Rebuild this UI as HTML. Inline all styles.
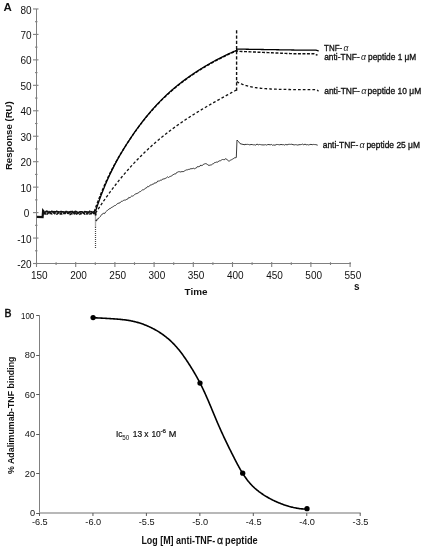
<!DOCTYPE html>
<html><head><meta charset="utf-8"><style>
html,body{margin:0;padding:0;background:#fff;}
svg{display:block;}
text{font-family:"Liberation Sans", Arial, sans-serif;fill:#111;}
</style></head><body>
<svg width="423" height="550" viewBox="0 0 423 550">
<rect width="423" height="550" fill="#fff"/>

<text x="3.6" y="10.8" font-size="11.5" font-weight="bold">A</text>
<g stroke="#808080" stroke-width="1" fill="none" shape-rendering="crispEdges">
<line x1="36.5" y1="8.96" x2="36.5" y2="263.5"/>
<line x1="36.5" y1="263.5" x2="350.60" y2="263.5"/>
</g>
<g stroke="#808080" stroke-width="1.1" fill="none">
<line x1="33" y1="263.51" x2="38.5" y2="263.51"/>
<line x1="33" y1="238.06" x2="38.5" y2="238.06"/>
<line x1="33" y1="212.60" x2="38.5" y2="212.60"/>
<line x1="33" y1="187.14" x2="38.5" y2="187.14"/>
<line x1="33" y1="161.69" x2="38.5" y2="161.69"/>
<line x1="33" y1="136.23" x2="38.5" y2="136.23"/>
<line x1="33" y1="110.78" x2="38.5" y2="110.78"/>
<line x1="33" y1="85.32" x2="38.5" y2="85.32"/>
<line x1="33" y1="59.87" x2="38.5" y2="59.87"/>
<line x1="33" y1="34.41" x2="38.5" y2="34.41"/>
<line x1="33" y1="8.96" x2="38.5" y2="8.96"/>
<line x1="35" y1="250.78" x2="37.5" y2="250.78"/>
<line x1="35" y1="225.33" x2="37.5" y2="225.33"/>
<line x1="35" y1="199.87" x2="37.5" y2="199.87"/>
<line x1="35" y1="174.42" x2="37.5" y2="174.42"/>
<line x1="35" y1="148.96" x2="37.5" y2="148.96"/>
<line x1="35" y1="123.51" x2="37.5" y2="123.51"/>
<line x1="35" y1="98.05" x2="37.5" y2="98.05"/>
<line x1="35" y1="72.60" x2="37.5" y2="72.60"/>
<line x1="35" y1="47.14" x2="37.5" y2="47.14"/>
<line x1="35" y1="21.69" x2="37.5" y2="21.69"/>
<line x1="36.50" y1="262" x2="36.50" y2="267"/>
<line x1="75.70" y1="262" x2="75.70" y2="267"/>
<line x1="114.90" y1="262" x2="114.90" y2="267"/>
<line x1="154.10" y1="262" x2="154.10" y2="267"/>
<line x1="193.30" y1="262" x2="193.30" y2="267"/>
<line x1="232.50" y1="262" x2="232.50" y2="267"/>
<line x1="271.70" y1="262" x2="271.70" y2="267"/>
<line x1="310.90" y1="262" x2="310.90" y2="267"/>
<line x1="350.10" y1="262" x2="350.10" y2="267"/>
<line x1="56.10" y1="262.2" x2="56.10" y2="265"/>
<line x1="95.30" y1="262.2" x2="95.30" y2="265"/>
<line x1="134.50" y1="262.2" x2="134.50" y2="265"/>
<line x1="173.70" y1="262.2" x2="173.70" y2="265"/>
<line x1="212.90" y1="262.2" x2="212.90" y2="265"/>
<line x1="252.10" y1="262.2" x2="252.10" y2="265"/>
<line x1="291.30" y1="262.2" x2="291.30" y2="265"/>
<line x1="330.50" y1="262.2" x2="330.50" y2="265"/>
</g>
<g font-size="10" text-anchor="end">
<text x="31.6" y="268.11">-20</text>
<text x="31.6" y="242.66">-10</text>
<text x="29.4" y="217.20">0</text>
<text x="31.6" y="191.74">10</text>
<text x="31.6" y="166.29">20</text>
<text x="31.6" y="140.83">30</text>
<text x="31.6" y="115.38">40</text>
<text x="31.6" y="89.92">50</text>
<text x="31.6" y="64.47">60</text>
<text x="31.6" y="39.01">70</text>
<text x="31.6" y="13.56">80</text>
</g>
<g font-size="10" text-anchor="middle">
<text x="39.30" y="278.8">150</text>
<text x="78.50" y="278.8">200</text>
<text x="117.70" y="278.8">250</text>
<text x="156.90" y="278.8">300</text>
<text x="196.10" y="278.8">350</text>
<text x="235.30" y="278.8">400</text>
<text x="274.50" y="278.8">450</text>
<text x="313.70" y="278.8">500</text>
<text x="352.90" y="278.8">550</text>
</g>
<text x="184.6" y="295.2" font-size="9.3" font-weight="bold" textLength="22.9" lengthAdjust="spacingAndGlyphs">Time</text>
<text x="356.8" y="289.8" font-size="10" font-weight="bold" text-anchor="middle">s</text>
<text transform="translate(12.1,135.7) rotate(-90)" font-size="9.6" font-weight="bold" text-anchor="middle">Response (RU)</text>
<polyline points="95.5,220.6 96.50,220.98 97.40,218.89 98.30,218.87 99.20,217.56 100.10,216.60 101.00,215.71 101.90,214.25 102.80,213.97 103.70,213.07 104.60,213.65 105.50,212.04 106.40,211.20 107.30,210.55 108.20,209.76 109.10,208.97 110.00,208.50 110.90,208.11 111.80,207.29 112.70,207.07 113.60,206.14 114.50,205.64 115.40,205.52 116.30,204.67 117.20,203.82 118.10,203.38 119.00,203.06 119.90,202.95 120.80,201.75 121.70,201.27 122.60,201.23 123.50,200.30 124.40,200.11 125.30,200.10 126.20,199.64 127.10,199.11 128.00,198.85 128.90,197.29 129.80,197.92 130.70,196.80 131.60,196.07 132.50,196.12 133.40,195.72 134.30,194.84 135.20,194.10 136.10,193.88 137.00,193.31 137.90,193.20 138.80,192.45 139.70,191.76 140.60,191.52 141.50,190.62 142.40,189.90 143.30,189.85 144.20,189.35 145.10,188.59 146.00,187.89 146.90,187.64 147.80,186.26 148.70,186.66 149.60,186.04 150.50,184.84 151.40,184.88 152.30,184.26 153.20,184.45 154.10,183.14 155.00,182.94 155.90,182.89 156.80,182.48 157.70,180.99 158.60,181.05 159.50,180.89 160.40,180.21 161.30,180.47 162.20,179.23 163.10,179.30 164.00,178.51 164.90,178.88 165.80,178.08 166.70,177.62 167.60,176.85 168.50,177.50 169.40,176.84 170.30,176.43 171.20,176.14 172.10,175.49 173.00,174.78 173.90,174.32 174.80,173.86 175.70,173.97 176.60,172.54 177.50,172.22 178.40,171.75 179.30,171.65 180.20,171.99 181.10,171.77 182.00,171.56 182.90,171.63 183.80,171.44 184.70,170.81 185.60,170.30 186.50,169.88 187.40,169.83 188.30,169.43 189.20,169.51 190.10,168.80 191.00,168.86 191.90,168.58 192.80,168.57 193.70,168.28 194.60,168.78 195.50,168.25 196.40,167.99 197.30,166.63 198.20,166.82 199.10,166.36 200.00,166.26 200.90,164.99 201.80,165.64 202.70,165.24 203.60,164.18 204.50,163.93 205.40,163.64 206.30,163.76 207.20,164.26 208.10,165.27 209.00,165.07 209.90,165.42 210.80,164.85 211.70,164.78 212.60,163.97 213.50,163.75 214.40,162.65 215.30,162.55 216.20,162.00 217.10,162.34 218.00,161.74 218.90,161.11 219.80,160.72 220.70,160.66 221.60,159.95 222.50,159.51 223.40,159.57 224.30,159.80 225.20,158.78 226.10,158.97 227.00,159.60 227.90,160.34 228.80,161.11 229.70,160.88 230.60,160.12 231.50,159.73 232.40,159.22 233.30,158.81 234.20,157.90 235.10,157.81 236.00,157.58 236.3,157.5 237.0,140.0 238.5,141.5 240,143.6 242,144.2 245,144.8" fill="none" stroke="#222" stroke-width="0.9"/>
<polyline points="245,144.8 245.00,144.37 246.20,144.46 247.40,144.35 248.60,144.50 249.80,144.86 251.00,144.48 252.20,144.55 253.40,144.84 254.60,144.79 255.80,145.11 257.00,143.97 258.20,144.86 259.40,144.46 260.60,144.64 261.80,144.85 263.00,144.92 264.20,144.91 265.40,144.65 266.60,145.08 267.80,144.52 269.00,144.56 270.20,144.84 271.40,144.43 272.60,145.25 273.80,144.91 275.00,145.25 276.20,144.59 277.40,144.49 278.60,144.65 279.80,144.82 281.00,144.42 282.20,144.71 283.40,144.59 284.60,145.08 285.80,144.40 287.00,144.91 288.20,144.41 289.40,144.31 290.60,144.39 291.80,144.24 293.00,144.64 294.20,144.91 295.40,144.65 296.60,144.79 297.80,145.09 299.00,144.68 300.20,144.66 301.40,144.52 302.60,144.12 303.80,144.83 305.00,144.07 306.20,144.80 307.40,144.60 308.60,144.94 309.80,144.58 311.00,144.35 312.20,144.71 313.40,144.43 314.60,144.55 315.80,144.61 317.70,145.20" fill="none" stroke="#222" stroke-width="0.9"/>
<line x1="95.5" y1="214" x2="95.5" y2="227" stroke="#aaa" stroke-width="1.3"/>
<line x1="95.5" y1="227" x2="95.5" y2="248.6" stroke="#444" stroke-width="1.2" stroke-dasharray="1.1 0.9"/>
<polyline points="95.5,220.5 97,220.2" fill="none" stroke="#222" stroke-width="1.2"/>
<polyline points="95.50,213.23 96.00,212.45 96.50,211.68 97.00,210.91 97.50,210.14 98.00,209.38 98.50,208.62 99.00,207.86 99.50,207.11 100.00,206.36 100.50,205.62 101.00,204.88 101.50,204.14 102.00,203.41 102.50,202.67 103.00,201.95 103.50,201.22 104.00,200.50 104.50,199.79 105.00,199.07 105.50,198.36 106.00,197.66 106.50,196.95 107.00,196.26 107.50,195.56 108.00,194.87 108.50,194.18 109.00,193.49 109.50,192.81 110.00,192.13 110.50,191.45 111.00,190.78 111.50,190.11 112.00,189.44 112.50,188.78 113.00,188.12 113.50,187.46 114.00,186.81 114.50,186.16 115.00,185.51 115.50,184.87 116.00,184.23 116.50,183.59 117.00,182.96 117.50,182.33 118.00,181.70 118.50,181.07 119.00,180.45 119.50,179.83 120.00,179.22 120.50,178.61 121.00,178.00 121.50,177.39 122.00,176.79 122.50,176.19 123.00,175.59 123.50,174.99 124.00,174.40 124.50,173.81 125.00,173.23 125.50,172.64 126.00,172.06 126.50,171.49 127.00,170.91 127.50,170.34 128.00,169.77 128.50,169.21 129.00,168.64 129.50,168.08 130.00,167.52 130.50,166.97 131.00,166.42 131.50,165.87 132.00,165.32 132.50,164.78 133.00,164.24 133.50,163.70 134.00,163.16 134.50,162.63 135.00,162.10 135.50,161.57 136.00,161.05 136.50,160.52 137.00,160.00 137.50,159.49 138.00,158.97 138.50,158.46 139.00,157.95 139.50,157.44 140.00,156.94 140.50,156.44 141.00,155.94 141.50,155.44 142.00,154.94 142.50,154.45 143.00,153.96 143.50,153.47 144.00,152.99 144.50,152.51 145.00,152.03 145.50,151.55 146.00,151.07 146.50,150.60 147.00,150.13 147.50,149.66 148.00,149.19 148.50,148.73 149.00,148.27 149.50,147.81 150.00,147.35 150.50,146.90 151.00,146.44 151.50,145.99 152.00,145.54 152.50,145.10 153.00,144.65 153.50,144.21 154.00,143.77 154.50,143.33 155.00,142.90 155.50,142.46 156.00,142.03 156.50,141.60 157.00,141.17 157.50,140.75 158.00,140.33 158.50,139.90 159.00,139.48 159.50,139.07 160.00,138.65 160.50,138.24 161.00,137.83 161.50,137.42 162.00,137.01 162.50,136.60 163.00,136.20 163.50,135.80 164.00,135.40 164.50,135.00 165.00,134.60 165.50,134.21 166.00,133.81 166.50,133.42 167.00,133.03 167.50,132.64 168.00,132.26 168.50,131.87 169.00,131.49 169.50,131.11 170.00,130.73 170.50,130.35 171.00,129.98 171.50,129.60 172.00,129.23 172.50,128.86 173.00,128.49 173.50,128.12 174.00,127.76 174.50,127.39 175.00,127.03 175.50,126.67 176.00,126.31 176.50,125.95 177.00,125.59 177.50,125.24 178.00,124.88 178.50,124.53 179.00,124.18 179.50,123.83 180.00,123.48 180.50,123.14 181.00,122.79 181.50,122.45 182.00,122.10 182.50,121.76 183.00,121.42 183.50,121.08 184.00,120.75 184.50,120.41 185.00,120.08 185.50,119.74 186.00,119.41 186.50,119.08 187.00,118.75 187.50,118.42 188.00,118.09 188.50,117.77 189.00,117.44 189.50,117.12 190.00,116.80 190.50,116.48 191.00,116.15 191.50,115.84 192.00,115.52 192.50,115.20 193.00,114.88 193.50,114.57 194.00,114.25 194.50,113.94 195.00,113.63 195.50,113.32 196.00,113.01 196.50,112.70 197.00,112.39 197.50,112.08 198.00,111.78 198.50,111.47 199.00,111.17 199.50,110.86 200.00,110.56 200.50,110.26 201.00,109.96 201.50,109.66 202.00,109.36 202.50,109.06 203.00,108.76 203.50,108.47 204.00,108.17 204.50,107.88 205.00,107.58 205.50,107.29 206.00,106.99 206.50,106.70 207.00,106.41 207.50,106.12 208.00,105.83 208.50,105.54 209.00,105.25 209.50,104.96 210.00,104.67 210.50,104.38 211.00,104.10 211.50,103.81 212.00,103.52 212.50,103.24 213.00,102.95 213.50,102.67 214.00,102.39 214.50,102.10 215.00,101.82 215.50,101.54 216.00,101.26 216.50,100.97 217.00,100.69 217.50,100.41 218.00,100.13 218.50,99.85 219.00,99.57 219.50,99.29 220.00,99.01 220.50,98.74 221.00,98.46 221.50,98.18 222.00,97.90 222.50,97.62 223.00,97.35 223.50,97.07 224.00,96.79 224.50,96.52 225.00,96.24 225.50,95.96 226.00,95.69 226.50,95.41 227.00,95.14 227.50,94.86 228.00,94.58 228.50,94.31 229.00,94.03 229.50,93.76 230.00,93.48 230.50,93.21 231.00,92.93 231.50,92.66 232.00,92.38 232.50,92.11 233.00,91.83 233.50,91.56 234.00,91.28 234.50,91.01 235.00,90.73 235.50,90.46 236.00,90.18 236.60,90.70" fill="none" stroke="#111" stroke-width="1.3" stroke-dasharray="2.7 2.1"/>
<line x1="236.6" y1="90.7" x2="236.6" y2="29.6" stroke="#111" stroke-width="1.4" stroke-dasharray="3.2 2"/>
<polyline points="236.80,81.50 238.00,82.34 238.50,82.60 239.00,82.85 239.50,83.09 240.00,83.32 240.50,83.55 241.00,83.76 241.50,83.97 242.00,84.17 242.50,84.37 243.00,84.55 243.50,84.73 244.00,84.91 244.50,85.08 245.00,85.24 245.50,85.40 246.00,85.55 246.50,85.69 247.00,85.83 247.50,85.97 248.00,86.10 248.50,86.23 249.00,86.35 249.50,86.47 250.00,86.58 250.50,86.69 251.00,86.79 251.50,86.90 252.00,86.99 252.50,87.09 253.00,87.18 253.50,87.27 254.00,87.35 254.50,87.44 255.00,87.52 255.50,87.59 256.00,87.67 256.50,87.74 257.00,87.81 257.50,87.87 258.00,87.94 258.50,88.00 259.00,88.06 259.50,88.12 260.00,88.17 260.50,88.23 261.00,88.28 261.50,88.33 262.00,88.38 262.50,88.42 263.00,88.47 263.50,88.51 264.00,88.55 264.50,88.59 265.00,88.63 265.50,88.67 266.00,88.70 266.50,88.74 267.00,88.77 267.50,88.81 268.00,88.84 268.50,88.87 269.00,88.90 269.50,88.92 270.00,88.95 270.50,88.98 271.00,89.00 271.50,89.03 272.00,89.05 272.50,89.07 273.00,89.10 273.50,89.12 274.00,89.14 274.50,89.16 275.00,89.18 275.50,89.19 276.00,89.21 276.50,89.23 277.00,89.25 277.50,89.26 278.00,89.28 278.50,89.29 279.00,89.31 279.50,89.32 280.00,89.33 280.50,89.35 281.00,89.36 281.50,89.37 282.00,89.38 282.50,89.39 283.00,89.40 283.50,89.41 284.00,89.42 284.50,89.43 285.00,89.44 285.50,89.45 286.00,89.46 286.50,89.47 287.00,89.48 287.50,89.49 288.00,89.49 288.50,89.50 289.00,89.51 289.50,89.51 290.00,89.52 290.50,89.53 291.00,89.53 291.50,89.54 292.00,89.54 292.50,89.55 293.00,89.56 293.50,89.56 294.00,89.57 294.50,89.57 295.00,89.57 295.50,89.58 296.00,89.58 296.50,89.59 297.00,89.59 297.50,89.60 298.00,89.60 298.50,89.60 299.00,89.61 299.50,89.61 300.00,89.61 300.50,89.62 301.00,89.62 301.50,89.62 302.00,89.62 302.50,89.63 303.00,89.63 303.50,89.63 304.00,89.63 304.50,89.64 305.00,89.64 305.50,89.64 306.00,89.64 306.50,89.64 307.00,89.65 307.50,89.65 308.00,89.65 308.50,89.65 309.00,89.65 309.50,89.66 310.00,89.66 310.50,89.66 311.00,89.66 311.50,89.66 312.00,89.66 312.50,89.66 313.00,89.67 313.50,89.67 314.00,89.67 314.50,89.67 315.00,89.67 315.50,89.67 316.00,89.67 316.50,89.67 317.50,90.30 318.50,91.20" fill="none" stroke="#111" stroke-width="1.3" stroke-dasharray="2.7 2.1"/>
<polyline points="94.20,211.78 94.73,210.25 95.25,208.75 95.78,207.27 96.30,205.81 96.82,204.36 97.35,202.94 97.87,201.53 98.39,200.14 98.91,198.77 99.44,197.42 99.96,196.08 100.48,194.77 101.00,193.46 101.52,192.18 102.04,190.91 102.56,189.66 103.07,188.42 103.59,187.20 104.11,186.00 104.63,184.81 105.15,183.63 105.66,182.47 106.18,181.33 106.70,180.19 107.21,179.08 107.73,177.97 108.24,176.88 108.76,175.80 109.27,174.73 109.79,173.68 110.30,172.64 110.81,171.61 111.33,170.59 111.84,169.59 112.35,168.59 112.87,167.61 113.38,166.63 113.89,165.67 114.40,164.72 114.92,163.77 115.43,162.84 115.94,161.91 116.45,161.00 116.96,160.09 117.47,159.19 117.98,158.30 118.49,157.42 119.00,156.55 119.51,155.68 120.02,154.82 120.53,153.97 121.04,153.13 121.55,152.29 122.06,151.45 122.57,150.63 123.08,149.80 123.58,148.99 124.09,148.18 124.60,147.37 125.11,146.57 125.62,145.77 126.12,144.98 126.63,144.19 127.14,143.41 127.65,142.63 128.15,141.86 128.66,141.09 129.17,140.33 129.67,139.57 130.18,138.82 130.69,138.07 131.19,137.32 131.70,136.58 132.20,135.85 132.71,135.12 133.22,134.39 133.72,133.67 134.23,132.95 134.73,132.24 135.24,131.53 135.74,130.83 136.25,130.13 136.75,129.43 137.26,128.74 137.76,128.05 138.27,127.37 138.77,126.69 139.28,126.02 139.78,125.35 140.29,124.68 140.79,124.02 141.29,123.37 141.80,122.71 142.30,122.07 142.81,121.42 143.31,120.78 143.81,120.15 144.32,119.51 144.82,118.89 145.32,118.26 145.83,117.64 146.33,117.03 146.83,116.42 147.34,115.81 147.84,115.21 148.34,114.61 148.85,114.01 149.35,113.42 149.85,112.83 150.36,112.25 150.86,111.67 151.36,111.09 151.86,110.52 152.37,109.95 152.87,109.39 153.37,108.83 153.87,108.27 154.38,107.72 154.88,107.17 155.38,106.62 155.88,106.08 156.39,105.54 156.89,105.01 157.39,104.47 157.89,103.95 158.40,103.42 158.90,102.90 159.40,102.39 159.90,101.87 160.40,101.36 160.91,100.86 161.41,100.35 161.91,99.85 162.41,99.36 162.91,98.86 163.41,98.37 163.92,97.89 164.42,97.41 164.92,96.93 165.42,96.45 165.92,95.98 166.42,95.51 166.93,95.04 167.43,94.58 167.93,94.12 168.43,93.66 168.93,93.20 169.43,92.75 169.93,92.30 170.44,91.86 170.94,91.42 171.44,90.98 171.94,90.54 172.44,90.11 172.94,89.68 173.44,89.25 173.94,88.82 174.44,88.40 174.95,87.98 175.45,87.57 175.95,87.15 176.45,86.74 176.95,86.33 177.45,85.92 177.95,85.52 178.45,85.12 178.95,84.72 179.45,84.33 179.96,83.93 180.46,83.54 180.96,83.15 181.46,82.77 181.96,82.38 182.46,82.00 182.96,81.62 183.46,81.25 183.96,80.87 184.46,80.50 184.96,80.13 185.46,79.76 185.97,79.40 186.47,79.03 186.97,78.67 187.47,78.31 187.97,77.95 188.47,77.60 188.97,77.25 189.47,76.90 189.97,76.55 190.47,76.20 190.97,75.85 191.47,75.51 191.97,75.17 192.47,74.83 192.97,74.49 193.47,74.16 193.97,73.82 194.48,73.49 194.98,73.16 195.48,72.83 195.98,72.50 196.48,72.18 196.98,71.85 197.48,71.53 197.98,71.21 198.48,70.89 198.98,70.57 199.48,70.25 199.98,69.94 200.48,69.63 200.98,69.31 201.48,69.00 201.98,68.70 202.48,68.39 202.98,68.08 203.48,67.78 203.98,67.47 204.48,67.17 204.98,66.87 205.48,66.58 205.98,66.28 206.48,65.98 206.98,65.69 207.49,65.40 207.99,65.11 208.49,64.82 208.99,64.53 209.49,64.24 209.99,63.96 210.49,63.67 210.99,63.39 211.49,63.11 211.99,62.83 212.49,62.55 212.99,62.28 213.49,62.00 213.99,61.73 214.49,61.46 214.99,61.19 215.49,60.92 215.99,60.65 216.49,60.38 216.99,60.12 217.49,59.86 217.99,59.59 218.49,59.33 218.99,59.07 219.49,58.82 219.99,58.56 220.49,58.31 220.99,58.05 221.49,57.80 221.99,57.55 222.49,57.30 222.99,57.05 223.49,56.81 223.99,56.56 224.49,56.32 224.99,56.08 225.49,55.84 225.99,55.60 226.49,55.36 226.99,55.12 227.49,54.89 227.99,54.65 228.49,54.42 228.99,54.19 229.49,53.96 229.99,53.73 230.49,53.50 230.99,53.28 231.49,53.05 231.99,52.83 232.49,52.61 232.99,52.39 233.49,52.17 233.99,51.95 234.49,51.74 235.00,51.52 235.50,51.31 236.00,51.10 236.50,50.89 236.80,50.60 238.00,51.30 238.50,51.32 239.00,51.34 239.50,51.37 240.00,51.39 240.50,51.41 241.00,51.43 241.50,51.45 242.00,51.48 242.50,51.50 243.00,51.52 243.50,51.54 244.00,51.56 244.50,51.59 245.00,51.61 245.50,51.63 246.00,51.65 246.50,51.67 247.00,51.69 247.50,51.72 248.00,51.74 248.50,51.76 249.00,51.78 249.50,51.80 250.00,51.83 250.50,51.85 251.00,51.87 251.50,51.89 252.00,51.91 252.50,51.94 253.00,51.96 253.50,51.98 254.00,52.00 254.50,52.02 255.00,52.05 255.50,52.07 256.00,52.09 256.50,52.11 257.00,52.13 257.50,52.16 258.00,52.18 258.50,52.20 259.00,52.22 259.50,52.24 260.00,52.26 260.50,52.29 261.00,52.31 261.50,52.33 262.00,52.35 262.50,52.37 263.00,52.40 263.50,52.42 264.00,52.44 264.50,52.46 265.00,52.48 265.50,52.51 266.00,52.53 266.50,52.55 267.00,52.57 267.50,52.59 268.00,52.62 268.50,52.64 269.00,52.66 269.50,52.68 270.00,52.70 270.50,52.73 271.00,52.75 271.50,52.77 272.00,52.79 272.50,52.81 273.00,52.84 273.50,52.86 274.00,52.88 274.50,52.90 275.00,52.92 275.50,52.94 276.00,52.97 276.50,52.99 277.00,53.01 277.50,53.03 278.00,53.05 278.50,53.08 279.00,53.10 279.50,53.12 280.00,53.14 280.50,53.16 281.00,53.19 281.50,53.21 282.00,53.23 282.50,53.25 283.00,53.27 283.50,53.30 284.00,53.32 284.50,53.34 285.00,53.36 285.50,53.38 286.00,53.41 286.50,53.43 287.00,53.45 287.50,53.47 288.00,53.49 288.50,53.51 289.00,53.54 289.50,53.56 290.00,53.58 290.50,53.60 291.00,53.62 291.50,53.65 292.00,53.67 292.50,53.69 293.00,53.71 293.50,53.73 294.00,53.76 294.50,53.78 295.00,53.80 295.50,53.80 296.00,53.80 296.50,53.80 297.00,53.80 297.50,53.80 298.00,53.80 298.50,53.80 299.00,53.80 299.50,53.80 300.00,53.80 300.50,53.80 301.00,53.80 301.50,53.80 302.00,53.80 302.50,53.80 303.00,53.80 303.50,53.80 304.00,53.80 304.50,53.80 305.00,53.80 305.50,53.80 306.00,53.80 306.50,53.80 307.00,53.80 307.50,53.80 308.00,53.80 308.50,53.80 309.00,53.80 309.50,53.80 310.00,53.80 310.50,53.80 311.00,53.80 311.50,53.80 312.00,53.80 312.50,53.80 313.00,53.80 313.50,53.80 314.00,53.80 314.50,54.00 315.00,54.20 315.50,54.40 316.00,54.60 316.50,54.80 317.00,55.00 317.50,55.20" fill="none" stroke="#111" stroke-width="1.4" stroke-dasharray="3 1.5"/>
<polyline points="95.50,211.28 96.00,209.75 96.50,208.25 97.00,206.77 97.50,205.31 98.00,203.86 98.50,202.44 99.00,201.03 99.50,199.64 100.00,198.27 100.50,196.92 101.00,195.58 101.50,194.27 102.00,192.96 102.50,191.68 103.00,190.41 103.50,189.16 104.00,187.92 104.50,186.70 105.00,185.50 105.50,184.31 106.00,183.13 106.50,181.97 107.00,180.83 107.50,179.69 108.00,178.58 108.50,177.47 109.00,176.38 109.50,175.30 110.00,174.23 110.50,173.18 111.00,172.14 111.50,171.11 112.00,170.09 112.50,169.09 113.00,168.09 113.50,167.11 114.00,166.13 114.50,165.17 115.00,164.22 115.50,163.27 116.00,162.34 116.50,161.41 117.00,160.50 117.50,159.59 118.00,158.69 118.50,157.80 119.00,156.92 119.50,156.05 120.00,155.18 120.50,154.32 121.00,153.47 121.50,152.63 122.00,151.79 122.50,150.95 123.00,150.13 123.50,149.30 124.00,148.49 124.50,147.68 125.00,146.87 125.50,146.07 126.00,145.27 126.50,144.48 127.00,143.69 127.50,142.91 128.00,142.13 128.50,141.36 129.00,140.59 129.50,139.83 130.00,139.07 130.50,138.32 131.00,137.57 131.50,136.82 132.00,136.08 132.50,135.35 133.00,134.62 133.50,133.89 134.00,133.17 134.50,132.45 135.00,131.74 135.50,131.03 136.00,130.33 136.50,129.63 137.00,128.93 137.50,128.24 138.00,127.55 138.50,126.87 139.00,126.19 139.50,125.52 140.00,124.85 140.50,124.18 141.00,123.52 141.50,122.87 142.00,122.21 142.50,121.57 143.00,120.92 143.50,120.28 144.00,119.65 144.50,119.01 145.00,118.39 145.50,117.76 146.00,117.14 146.50,116.53 147.00,115.92 147.50,115.31 148.00,114.71 148.50,114.11 149.00,113.51 149.50,112.92 150.00,112.33 150.50,111.75 151.00,111.17 151.50,110.59 152.00,110.02 152.50,109.45 153.00,108.89 153.50,108.33 154.00,107.77 154.50,107.22 155.00,106.67 155.50,106.12 156.00,105.58 156.50,105.04 157.00,104.51 157.50,103.97 158.00,103.45 158.50,102.92 159.00,102.40 159.50,101.89 160.00,101.37 160.50,100.86 161.00,100.36 161.50,99.85 162.00,99.35 162.50,98.86 163.00,98.36 163.50,97.87 164.00,97.39 164.50,96.91 165.00,96.43 165.50,95.95 166.00,95.48 166.50,95.01 167.00,94.54 167.50,94.08 168.00,93.62 168.50,93.16 169.00,92.70 169.50,92.25 170.00,91.80 170.50,91.36 171.00,90.92 171.50,90.48 172.00,90.04 172.50,89.61 173.00,89.18 173.50,88.75 174.00,88.32 174.50,87.90 175.00,87.48 175.50,87.07 176.00,86.65 176.50,86.24 177.00,85.83 177.50,85.42 178.00,85.02 178.50,84.62 179.00,84.22 179.50,83.83 180.00,83.43 180.50,83.04 181.00,82.65 181.50,82.27 182.00,81.88 182.50,81.50 183.00,81.12 183.50,80.75 184.00,80.37 184.50,80.00 185.00,79.63 185.50,79.26 186.00,78.90 186.50,78.53 187.00,78.17 187.50,77.81 188.00,77.45 188.50,77.10 189.00,76.75 189.50,76.40 190.00,76.05 190.50,75.70 191.00,75.35 191.50,75.01 192.00,74.67 192.50,74.33 193.00,73.99 193.50,73.66 194.00,73.32 194.50,72.99 195.00,72.66 195.50,72.33 196.00,72.00 196.50,71.68 197.00,71.35 197.50,71.03 198.00,70.71 198.50,70.39 199.00,70.07 199.50,69.75 200.00,69.44 200.50,69.13 201.00,68.81 201.50,68.50 202.00,68.20 202.50,67.89 203.00,67.58 203.50,67.28 204.00,66.97 204.50,66.67 205.00,66.37 205.50,66.08 206.00,65.78 206.50,65.48 207.00,65.19 207.50,64.90 208.00,64.61 208.50,64.32 209.00,64.03 209.50,63.74 210.00,63.46 210.50,63.17 211.00,62.89 211.50,62.61 212.00,62.33 212.50,62.05 213.00,61.78 213.50,61.50 214.00,61.23 214.50,60.96 215.00,60.69 215.50,60.42 216.00,60.15 216.50,59.88 217.00,59.62 217.50,59.36 218.00,59.09 218.50,58.83 219.00,58.57 219.50,58.32 220.00,58.06 220.50,57.81 221.00,57.55 221.50,57.30 222.00,57.05 222.50,56.80 223.00,56.55 223.50,56.31 224.00,56.06 224.50,55.82 225.00,55.58 225.50,55.34 226.00,55.10 226.50,54.86 227.00,54.62 227.50,54.39 228.00,54.15 228.50,53.92 229.00,53.69 229.50,53.46 230.00,53.23 230.50,53.00 231.00,52.78 231.50,52.55 232.00,52.33 232.50,52.11 233.00,51.89 233.50,51.67 234.00,51.45 234.50,51.24 235.00,51.02 235.50,50.81 236.00,50.60 236.50,50.39 236.80,49.20 238.00,49.10 238.50,49.11 239.00,49.12 239.50,49.12 240.00,49.13 240.50,49.14 241.00,49.15 241.50,49.16 242.00,49.17 242.50,49.17 243.00,49.18 243.50,49.19 244.00,49.20 244.50,49.21 245.00,49.21 245.50,49.22 246.00,49.23 246.50,49.24 247.00,49.25 247.50,49.26 248.00,49.26 248.50,49.27 249.00,49.28 249.50,49.29 250.00,49.30 250.50,49.31 251.00,49.31 251.50,49.32 252.00,49.33 252.50,49.34 253.00,49.35 253.50,49.35 254.00,49.36 254.50,49.37 255.00,49.38 255.50,49.39 256.00,49.40 256.50,49.40 257.00,49.41 257.50,49.42 258.00,49.43 258.50,49.44 259.00,49.44 259.50,49.45 260.00,49.46 260.50,49.47 261.00,49.48 261.50,49.49 262.00,49.49 262.50,49.50 263.00,49.51 263.50,49.52 264.00,49.53 264.50,49.54 265.00,49.54 265.50,49.55 266.00,49.56 266.50,49.57 267.00,49.58 267.50,49.58 268.00,49.59 268.50,49.60 269.00,49.61 269.50,49.62 270.00,49.63 270.50,49.63 271.00,49.64 271.50,49.65 272.00,49.66 272.50,49.67 273.00,49.67 273.50,49.68 274.00,49.69 274.50,49.70 275.00,49.71 275.50,49.72 276.00,49.72 276.50,49.73 277.00,49.74 277.50,49.75 278.00,49.76 278.50,49.76 279.00,49.77 279.50,49.78 280.00,49.79 280.50,49.80 281.00,49.81 281.50,49.81 282.00,49.82 282.50,49.83 283.00,49.84 283.50,49.85 284.00,49.86 284.50,49.86 285.00,49.87 285.50,49.88 286.00,49.89 286.50,49.90 287.00,49.90 287.50,49.91 288.00,49.92 288.50,49.93 289.00,49.94 289.50,49.95 290.00,49.95 290.50,49.96 291.00,49.97 291.50,49.98 292.00,49.99 292.50,49.99 293.00,50.00 293.50,50.01 294.00,50.02 294.50,50.03 295.00,50.04 295.50,50.04 296.00,50.05 296.50,50.06 297.00,50.07 297.50,50.08 298.00,50.09 298.50,50.09 299.00,50.10 299.50,50.11 300.00,50.12 300.50,50.13 301.00,50.13 301.50,50.14 302.00,50.15 302.50,50.16 303.00,50.17 303.50,50.18 304.00,50.18 304.50,50.19 305.00,50.20 305.50,50.20 306.00,50.20 306.50,50.20 307.00,50.20 307.50,50.20 308.00,50.20 308.50,50.20 309.00,50.20 309.50,50.20 310.00,50.20 310.50,50.20 311.00,50.20 311.50,50.20 312.00,50.20 312.50,50.20 313.00,50.20 313.50,50.20 314.00,50.20 314.50,50.20 315.00,50.20 315.50,50.20 316.00,50.20 317.50,50.60 318.80,51.00" fill="none" stroke="#000" stroke-width="1.3"/>
<polyline points="36.8,216.9 42.6,217.2 43.1,210.8 43.8,211.6" fill="none" stroke="#111" stroke-width="2.2"/>
<polyline points="43.50,211.87 44.20,212.09 44.90,211.98 45.60,211.97 46.30,211.22 47.00,211.56 47.70,211.38 48.40,212.21 49.10,212.47 49.80,211.70 50.50,212.03 51.20,211.70 51.90,211.34 52.60,211.83 53.30,211.84 54.00,211.72 54.70,212.11 55.40,211.93 56.10,211.74 56.80,211.29 57.50,211.87 58.20,212.16 58.90,211.89 59.60,212.00 60.30,211.92 61.00,211.55 61.70,212.04 62.40,211.79 63.10,211.75 63.80,211.99 64.50,212.13 65.20,212.49 65.90,211.63 66.60,211.64 67.30,211.89 68.00,212.02 68.70,212.76 69.40,212.00 70.10,212.08 70.80,211.70 71.50,211.77 72.20,211.49 72.90,212.49 73.60,212.17 74.30,212.12 75.00,211.63 75.70,211.46 76.40,211.76 77.10,212.06 77.80,212.26 78.50,212.50 79.20,212.27 79.90,211.85 80.60,211.84 81.30,211.78 82.00,211.81 82.70,212.27 83.40,212.52 84.10,212.13 84.80,211.73 85.50,211.80 86.20,212.12 86.90,211.81 87.60,212.09 88.30,212.16 89.00,212.36 89.70,211.33 90.40,211.70 91.10,211.95 91.80,211.68 92.50,212.50 93.20,212.33 93.90,211.89 94.60,211.82 95.30,211.22" fill="none" stroke="#111" stroke-width="1.7"/>
<polyline points="43.50,213.21 44.20,213.66 44.90,213.06 45.60,213.99 46.30,213.73 47.00,214.03 47.70,213.61 48.40,212.77 49.10,213.06 49.80,213.35 50.50,213.26 51.20,213.43 51.90,213.86 52.60,213.41 53.30,212.89 54.00,213.03 54.70,213.53 55.40,213.46 56.10,214.01 56.80,214.14 57.50,213.55 58.20,213.01 58.90,212.88 59.60,213.33 60.30,213.82 61.00,213.85 61.70,213.88 62.40,213.41 63.10,213.35 63.80,213.09 64.50,213.28 65.20,213.30 65.90,213.40 66.60,213.61 67.30,213.22 68.00,213.02 68.70,213.38 69.40,213.36 70.10,214.38 70.80,214.03 71.50,213.56 72.20,213.66 72.90,213.33 73.60,213.05 74.30,213.69 75.00,213.48 75.70,213.04 76.40,213.89 77.10,213.29 77.80,213.60 78.50,213.07 79.20,213.14 79.90,214.08 80.60,213.53 81.30,213.73 82.00,213.78 82.70,213.25 83.40,213.22 84.10,213.49 84.80,213.92 85.50,213.60 86.20,213.81 86.90,213.54 87.60,213.80 88.30,213.17 89.00,213.26 89.70,213.91 90.40,213.69 91.10,213.70 91.80,213.40 92.50,213.50 93.20,213.11 93.90,213.49 94.60,213.11 95.30,213.56" fill="none" stroke="#111" stroke-width="1.7" stroke-dasharray="3 0.8"/>
<polyline points="94.5,212.6 95.5,213.5 95.8,215.5" fill="none" stroke="#111" stroke-width="1.8"/>
<g font-size="8.6" stroke="#111" stroke-width="0.32">
<text x="324.1" y="51.0" textLength="18.1" lengthAdjust="spacingAndGlyphs" >TNF-</text>
<text x="343.6" y="51.0" textLength="4.9" lengthAdjust="spacingAndGlyphs" font-family="Liberation Serif, serif" font-style="italic" font-size="9.2" stroke="none" fill="#222">α</text>
<text x="324.2" y="60.1" textLength="35.5" lengthAdjust="spacingAndGlyphs" >anti-TNF-</text>
<text x="361.0" y="60.1" textLength="5.0" lengthAdjust="spacingAndGlyphs" font-family="Liberation Serif, serif" font-style="italic" font-size="9.2" stroke="none" fill="#222">α</text>
<text x="368.1" y="60.1" textLength="48.2" lengthAdjust="spacingAndGlyphs" >peptide 1 μM</text>
<text x="324.2" y="93.6" textLength="35.7" lengthAdjust="spacingAndGlyphs" >anti-TNF-</text>
<text x="361.2" y="93.6" textLength="5.2" lengthAdjust="spacingAndGlyphs" font-family="Liberation Serif, serif" font-style="italic" font-size="9.2" stroke="none" fill="#222">α</text>
<text x="367.6" y="93.6" textLength="53.6" lengthAdjust="spacingAndGlyphs" >peptide 10 μM</text>
<text x="322.8" y="147.7" textLength="35.4" lengthAdjust="spacingAndGlyphs" >anti-TNF-</text>
<text x="359.6" y="147.7" textLength="5.1" lengthAdjust="spacingAndGlyphs" font-family="Liberation Serif, serif" font-style="italic" font-size="9.2" stroke="none" fill="#222">α</text>
<text x="366.4" y="147.7" textLength="53.6" lengthAdjust="spacingAndGlyphs" >peptide 25 μM</text>
</g>
<text x="4.5" y="316.9" font-size="11" stroke="#000" stroke-width="0.45" fill="#000" textLength="7.0" lengthAdjust="spacingAndGlyphs">B</text>
<g stroke="#808080" stroke-width="1" fill="none">
<line x1="39.5" y1="315.55" x2="39.5" y2="513"/>
</g>
<line x1="39" y1="513" x2="360.70" y2="513" stroke="#a0a0a0" stroke-width="1.35"/>
<g stroke="#5a5a5a" stroke-width="1" fill="none">
<line x1="36.2" y1="513.50" x2="39.5" y2="513.50"/>
<line x1="36.2" y1="473.50" x2="39.5" y2="473.50"/>
<line x1="36.2" y1="434.50" x2="39.5" y2="434.50"/>
<line x1="36.2" y1="394.50" x2="39.5" y2="394.50"/>
<line x1="36.2" y1="355.50" x2="39.5" y2="355.50"/>
<line x1="36.2" y1="315.50" x2="39.5" y2="315.50"/>
<line x1="39.50" y1="513" x2="39.50" y2="516"/>
<line x1="92.95" y1="513" x2="92.95" y2="516"/>
<line x1="146.40" y1="513" x2="146.40" y2="516"/>
<line x1="199.85" y1="513" x2="199.85" y2="516"/>
<line x1="253.30" y1="513" x2="253.30" y2="516"/>
<line x1="306.75" y1="513" x2="306.75" y2="516"/>
<line x1="360.20" y1="513" x2="360.20" y2="516"/>
</g>
<g font-size="9.2" text-anchor="end">
<text x="35.1" y="516.10">0</text>
<text x="35.1" y="476.61">20</text>
<text x="35.1" y="437.12">40</text>
<text x="35.1" y="397.63">60</text>
<text x="35.1" y="358.14">80</text>
<text x="34.2" y="318.65" textLength="13.2" lengthAdjust="spacingAndGlyphs">100</text>
</g>
<g font-size="9.2" text-anchor="middle">
<text x="39.80" y="525.3">-6.5</text>
<text x="93.25" y="525.3">-6.0</text>
<text x="146.70" y="525.3">-5.5</text>
<text x="200.15" y="525.3">-5.0</text>
<text x="253.60" y="525.3">-4.5</text>
<text x="307.05" y="525.3">-4.0</text>
<text x="360.50" y="525.3">-3.5</text>
</g>
<g font-size="10" font-weight="bold">
<text x="141.4" y="543.9" textLength="73.8" lengthAdjust="spacingAndGlyphs" >Log [M] anti-TNF-</text>
<text x="216.9" y="543.9" textLength="6.0" lengthAdjust="spacingAndGlyphs" font-family="Liberation Serif, serif" font-weight="normal" font-size="10.5" fill="#111" stroke="#111" stroke-width="0.3">α</text>
<text x="225.0" y="543.9" textLength="32.75" lengthAdjust="spacingAndGlyphs" >peptide</text>
</g>
<text transform="translate(14.4,474.0) rotate(-90)" font-size="9.9" font-weight="bold" textLength="117.5" lengthAdjust="spacingAndGlyphs">% Adalimumab-TNF binding</text>
<g font-size="8.4" stroke="#111" stroke-width="0.2">
<text x="115.9" y="436.6">Ic</text>
<text x="122.3" y="440.1" font-size="6.3" stroke="none" fill="#333">50</text>
<text x="132.8" y="436.6">13</text>
<text x="144.3" y="436.6">x</text>
<text x="151.4" y="436.6">10</text>
<text x="160.4" y="433.2" font-size="6.2">-6</text>
<text x="168.8" y="436.6" textLength="7.6" lengthAdjust="spacingAndGlyphs">M</text>
</g>
<polyline points="92.92,317.73 94.77,317.82 96.56,317.90 98.29,317.99 99.97,318.07 101.59,318.16 103.15,318.24 104.67,318.32 106.14,318.40 107.55,318.48 108.93,318.56 110.25,318.64 111.53,318.71 112.78,318.80 113.98,318.88 115.14,318.96 116.27,319.04 117.36,319.13 118.42,319.22 119.45,319.31 120.44,319.40 121.41,319.50 122.36,319.59 123.28,319.70 124.17,319.80 125.05,319.91 125.90,320.02 126.74,320.14 127.56,320.26 128.37,320.39 129.16,320.52 129.94,320.66 130.71,320.81 131.48,320.95 132.24,321.11 132.99,321.27 133.74,321.44 134.49,321.62 135.24,321.80 135.99,321.99 136.74,322.19 137.48,322.39 138.23,322.61 138.98,322.83 139.73,323.06 140.48,323.30 141.23,323.55 141.99,323.81 142.74,324.08 143.51,324.36 144.27,324.65 145.05,324.95 145.82,325.26 146.61,325.58 147.40,325.92 148.19,326.26 148.99,326.62 149.79,326.99 150.60,327.37 151.42,327.77 152.24,328.18 153.06,328.60 153.88,329.03 154.71,329.48 155.54,329.94 156.38,330.42 157.21,330.91 158.05,331.41 158.89,331.94 159.73,332.47 160.57,333.02 161.41,333.59 162.26,334.17 163.10,334.77 163.94,335.39 164.78,336.02 165.63,336.68 166.47,337.34 167.30,338.03 168.14,338.73 168.97,339.45 169.81,340.19 170.63,340.95 171.46,341.73 172.28,342.53 173.10,343.35 173.92,344.18 174.73,345.04 175.53,345.92 176.33,346.81 177.13,347.73 177.92,348.66 178.70,349.62 179.48,350.59 180.26,351.57 181.03,352.57 181.79,353.58 182.55,354.60 183.30,355.64 184.05,356.68 184.79,357.74 185.52,358.80 186.25,359.87 186.97,360.94 187.69,362.02 188.40,363.11 189.10,364.19 189.80,365.28 190.49,366.37 191.18,367.47 191.86,368.56 192.53,369.66 193.19,370.76 193.85,371.87 194.50,372.98 195.15,374.09 195.78,375.20 196.42,376.31 197.04,377.43 197.65,378.55 198.26,379.67 198.86,380.80 199.46,381.93 200.04,383.06 200.62,384.19 201.19,385.33 201.76,386.47 202.32,387.61 202.87,388.76 203.41,389.90 203.95,391.05 204.48,392.20 205.01,393.35 205.53,394.50 206.04,395.65 206.56,396.81 207.06,397.96 207.56,399.11 208.06,400.26 208.56,401.42 209.05,402.57 209.54,403.72 210.02,404.87 210.50,406.02 210.98,407.16 211.46,408.31 211.94,409.45 212.41,410.59 212.88,411.73 213.35,412.87 213.82,414.00 214.29,415.13 214.76,416.26 215.23,417.38 215.70,418.50 216.17,419.62 216.64,420.73 217.11,421.84 217.58,422.94 218.05,424.04 218.52,425.13 219.00,426.22 219.48,427.30 219.95,428.38 220.43,429.45 220.91,430.52 221.39,431.58 221.87,432.63 222.35,433.69 222.84,434.73 223.32,435.77 223.80,436.81 224.28,437.84 224.77,438.86 225.25,439.88 225.73,440.89 226.21,441.90 226.69,442.90 227.18,443.90 227.66,444.89 228.14,445.87 228.62,446.85 229.09,447.83 229.57,448.79 230.05,449.75 230.52,450.71 231.00,451.66 231.47,452.60 231.94,453.54 232.41,454.47 232.88,455.39 233.35,456.31 233.81,457.22 234.27,458.12 234.73,459.02 235.19,459.91 235.65,460.80 236.10,461.68 236.56,462.55 237.02,463.42 237.47,464.28 237.93,465.13 238.38,465.97 238.84,466.81 239.30,467.64 239.76,468.47 240.23,469.29 240.70,470.10 241.17,470.90 241.65,471.70 242.13,472.49 242.61,473.27 243.10,474.05 243.60,474.82 244.10,475.58 244.60,476.33 245.12,477.08 245.64,477.82 246.17,478.55 246.71,479.27 247.25,479.99 247.81,480.69 248.37,481.40 248.95,482.09 249.53,482.77 250.13,483.45 250.73,484.12 251.35,484.78 251.98,485.44 252.62,486.09 253.27,486.72 253.94,487.35 254.62,487.98 255.31,488.59 256.01,489.20 256.72,489.79 257.44,490.38 258.16,490.96 258.90,491.54 259.65,492.10 260.41,492.66 261.17,493.21 261.95,493.74 262.73,494.27 263.51,494.80 264.31,495.31 265.11,495.81 265.92,496.31 266.73,496.80 267.55,497.28 268.37,497.75 269.20,498.21 270.03,498.66 270.86,499.10 271.70,499.53 272.54,499.96 273.39,500.37 274.23,500.78 275.08,501.18 275.93,501.56 276.78,501.94 277.63,502.31 278.49,502.67 279.34,503.02 280.19,503.36 281.04,503.70 281.89,504.02 282.74,504.33 283.59,504.63 284.43,504.93 285.27,505.21 286.11,505.48 286.95,505.75 287.78,506.00 288.61,506.24 289.43,506.48 290.25,506.70 291.07,506.92 291.87,507.12 292.68,507.31 293.47,507.50 294.26,507.67 295.04,507.83 295.82,507.99 296.59,508.13 297.34,508.26 298.09,508.38 298.84,508.49 299.57,508.60 300.29,508.69 301.00,508.77 301.71,508.83 302.40,508.89 303.08,508.94 303.75,508.98 304.40,509.00 305.05,509.02 305.68,509.02 306.30,509.02 306.90,509.00" fill="none" stroke="#000" stroke-width="1.6"/>
<circle cx="93.1" cy="317.6" r="2.65" fill="#000"/>
<circle cx="200.0" cy="383.1" r="2.65" fill="#000"/>
<circle cx="242.7" cy="473.2" r="2.65" fill="#000"/>
<circle cx="307.0" cy="508.7" r="2.65" fill="#000"/>
</svg></body></html>
